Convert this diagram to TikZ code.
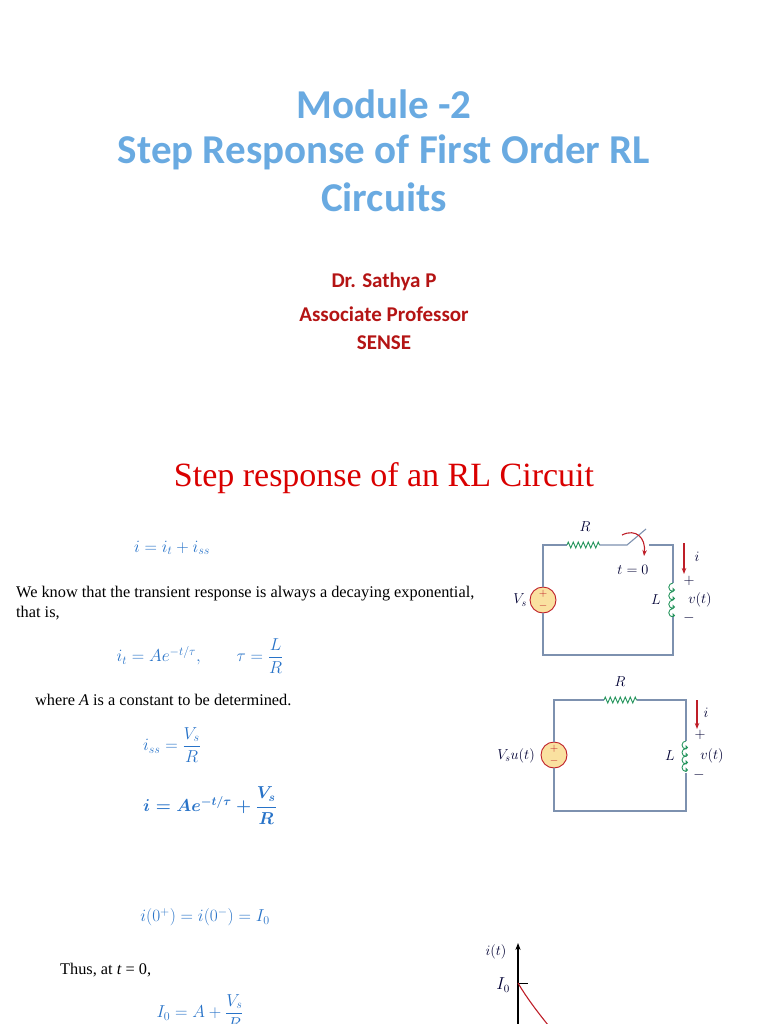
\documentclass[tikz,border=0pt]{standalone}
\usepackage{fontspec}
\usepackage{amsmath}
\setmainfont{Liberation Serif}
\newfontfamily\titlefont{Carlito}
\usetikzlibrary{decorations.pathmorphing,arrows.meta}
\definecolor{ttl}{RGB}{105,170,225}
\definecolor{nm}{RGB}{180,20,20}
\definecolor{eq}{RGB}{40,115,200}
\definecolor{wire}{RGB}{125,145,175}
\definecolor{comp}{RGB}{40,150,95}
\definecolor{src}{RGB}{250,225,160}
\definecolor{arr}{RGB}{190,30,40}
\tikzset{
  ttlx/.style={font=\titlefont\bfseries\fontsize{41}{44}\selectfont, text=ttl},
  nmx/.style={font=\titlefont\bfseries\fontsize{21}{24}\selectfont, text=nm},
  body/.style={font=\fontsize{16.3}{19}\selectfont, anchor=west, inner sep=0},
  eqx/.style={font=\fontsize{16.5}{19}\selectfont, text=eq},
  w/.style={wire, line width=1.1pt},
  res/.style={comp, line width=0.9pt, decorate, decoration={zigzag, segment length=5pt, amplitude=3pt}},
  srcx/.style={circle, draw=arr, fill=src, line width=0.9pt, minimum size=26pt, inner sep=0},
  lbl/.style={font=\fontsize{14}{16}\selectfont, text=black!80!blue},
  ra/.style={arr, line width=1.1pt, -{Stealth[length=6pt]}}
}
\begin{document}
\begin{tikzpicture}[x=1pt,y=1pt]
\useasboundingbox (0,0) rectangle (768,-1024);
% titles
\node[ttlx] (t1) at (384,-104) {Module -2};
\node[ttlx] (t2) at (384,-152) {Step Response of First Order RL};
\node[ttlx] (t3) at (384,-197) {Circuits};
\node[nmx] (n1) at (384,-282) {Dr. Sathya P};
\node[nmx] (n2) at (384,-314) {Associate Professor};
\node[nmx] (n3) at (384,-343) {SENSE};
\node[font=\fontsize{34}{38}\selectfont, text=red!85!black] (h) at (384,-478) {Step response of an RL Circuit};
% text
\node[eqx] (e1) at (172,-548) {$i = i_t + i_{ss}$};
\node[body] (p1) at (16,-594) {We know that the transient response is always a decaying exponential,};
\node[body] (p2) at (16,-613) {that is,};
\node[eqx] (e2) at (200,-656) {$i_t = Ae^{-t/\tau},\qquad \tau = \dfrac{L}{R}$};
\node[body] (p3) at (35,-700) {where \textit{A} is a constant to be determined.};
\node[eqx] (e3) at (172,-745) {$i_{ss} = \dfrac{V_s}{R}$};
\node[eqx] (e4) at (210,-806) {$\boldsymbol{i = Ae^{-t/\tau} + \dfrac{V_s}{R}}$};
\node[eqx] (e5) at (205,-917) {$i(0^+) = i(0^-) = I_0$};
\node[body] (p4) at (60,-970) {Thus, at \textit{t} = 0,};
\node[eqx] (e6) at (200,-1012) {$I_0 = A + \dfrac{V_s}{R}$};
% circuit 1
\coordinate (a1) at (543,-545); \coordinate (b1) at (673,-545);
\coordinate (c1) at (673,-655); \coordinate (d1) at (543,-655);
\node[srcx] (s1) at (543,-600) {};
\node[font=\fontsize{11}{11}\selectfont, text=arr] at (543,-594) {$+$};
\node[font=\fontsize{11}{11}\selectfont, text=arr] at (543,-606) {$-$};
\draw[w] (s1.north) -- (a1) -- (567,-545);
\draw[res] (567,-545) -- (600,-545);
\draw[w] (600,-545) -- (627,-545) -- (646,-529);
\draw[w] (649,-545) -- (b1) -- (673,-583);
\draw[comp, line width=0.9pt] (673,-583) \foreach \k in {0,...,3} {arc[start angle=90,end angle=270,radius=4.25pt] arc[start angle=-90,end angle=90,radius=1.5pt] -- ++(0,-3)} ;
\draw[w] (673,-617) -- (c1) -- (d1) -- (s1.south);
\draw[ra] (622,-535) .. controls (636,-528) and (646,-538) .. (644,-556);
\draw[ra] (684,-543) -- (684,-574);
\node[lbl] at (585,-527) {$R$};
\node[lbl] at (633,-570) {$t=0$};
\node[lbl] at (697,-557) {$i$};
\node[lbl] at (689,-581) {$+$};
\node[lbl] at (689,-618) {$-$};
\node[lbl] at (656,-600) {$L$};
\node[lbl] at (700,-600) {$v(t)$};
\node[lbl] at (520,-600) {$V_s$};
% circuit 2
\coordinate (a2) at (554,-700); \coordinate (b2) at (686,-700);
\coordinate (c2) at (686,-811); \coordinate (d2) at (554,-811);
\node[srcx] (s2) at (554,-755) {};
\node[font=\fontsize{11}{11}\selectfont, text=arr] at (554,-749) {$+$};
\node[font=\fontsize{11}{11}\selectfont, text=arr] at (554,-761) {$-$};
\draw[w] (s2.north) -- (a2) -- (604,-700);
\draw[res] (604,-700) -- (637,-700);
\draw[w] (637,-700) -- (b2) -- (686,-741);
\draw[comp, line width=0.9pt] (686,-741) \foreach \k in {0,...,3} {arc[start angle=90,end angle=270,radius=4pt] arc[start angle=-90,end angle=90,radius=1.5pt] -- ++(0,-2.5)} ;
\draw[w] (686,-773) -- (c2) -- (d2) -- (s2.south);
\draw[ra] (697,-700) -- (697,-729);
\node[lbl] at (620,-682) {$R$};
\node[lbl] at (706,-713) {$i$};
\node[lbl] at (700,-735) {$+$};
\node[lbl] at (699,-775) {$-$};
\node[lbl] at (670,-756) {$L$};
\node[lbl] at (712,-756) {$v(t)$};
\node[lbl] at (516,-756) {$V_su(t)$};
% graph
\coordinate (o) at (518,-1030);
\coordinate (top) at (518,-943);
\draw[line width=1.1pt, -{Stealth[length=7pt]}] (o) -- (top);
\draw[line width=0.8pt] (518,-983) -- (528,-983);
\draw[arr, line width=1.1pt] (518,-983) .. controls (528,-1000) and (540,-1015) .. (552,-1030);
\node[lbl, font=\fontsize{15}{16}\selectfont] at (496,-952) {$i(t)$};
\node[lbl, font=\fontsize{16}{16}\selectfont] at (503,-985) {$I_0$};
\end{tikzpicture}
\end{document}
